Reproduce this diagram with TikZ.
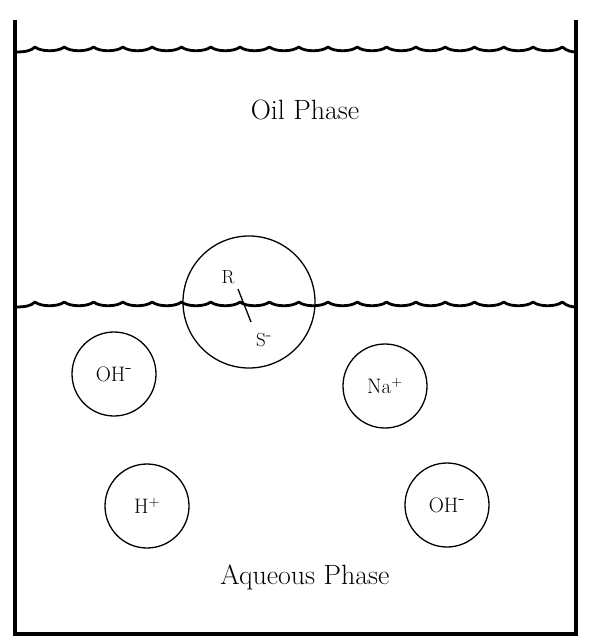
\documentclass[tikz,border=0pt]{standalone}
\usetikzlibrary{calc}
\begin{document}
\begin{tikzpicture}[x=1bp,y=-1bp,
  wall/.style={line width=4bp,line cap=rect},
  wave/.style={line width=2.8bp,line join=round},
  ion/.style={circle,draw,line width=1.3bp,minimum size=84bp,inner sep=0pt,font=\fontsize{21}{21}\selectfont},
  phase/.style={font=\fontsize{28}{28}\selectfont}]
\useasboundingbox (0,0) rectangle (591,641);
% container
\draw[wall] (15,22) -- (15,634) -- (576,634) -- (576,22);
% wavy interfaces
\foreach \yb in {52,307}{
  \pgfmathsetmacro{\yp}{\yb-5}
  \draw[wave] (15,\yb) .. controls (25,\yb) and (31,\yb-1) .. (35,\yp)
    \foreach \k in {0,...,17}{
      .. controls ({35+29.3*\k+6},\yb) and ({35+29.3*\k+23},\yb) .. ({35+29.3*(\k+1)},\yp)
    }
    .. controls ({35+29.3*18+4},\yb-1) and ({35+29.3*18+10},\yb) .. (576,\yb);
}
% labels
\node[phase] (oil) at (305,110) {Oil Phase};
\node[phase] (aq) at (305,577) {Aqueous Phase};
% surfactant
\node[circle,draw,line width=1.3bp,minimum size=132bp,inner sep=0pt] (big) at (249,302) {};
\node[font=\fontsize{19}{19}\selectfont] (r) at (228,277) {R};
\node[font=\fontsize{19}{19}\selectfont] (s) at (264,340) {S$^{\mbox{-}}$};
\coordinate (t1) at (238,289);
\coordinate (t2) at (251,322);
\draw[line width=1.3bp] (t1) -- (t2);
% ions
\node[ion] (oh1) at (114,374) {OH$^{\mbox{-}}$};
\node[ion] (na) at (385,386) {Na$^{+}$};
\node[ion] (h) at (147,506) {H$^{+}$};
\node[ion] (oh2) at (447,505) {OH$^{\mbox{-}}$};
\end{tikzpicture}
\end{document}
